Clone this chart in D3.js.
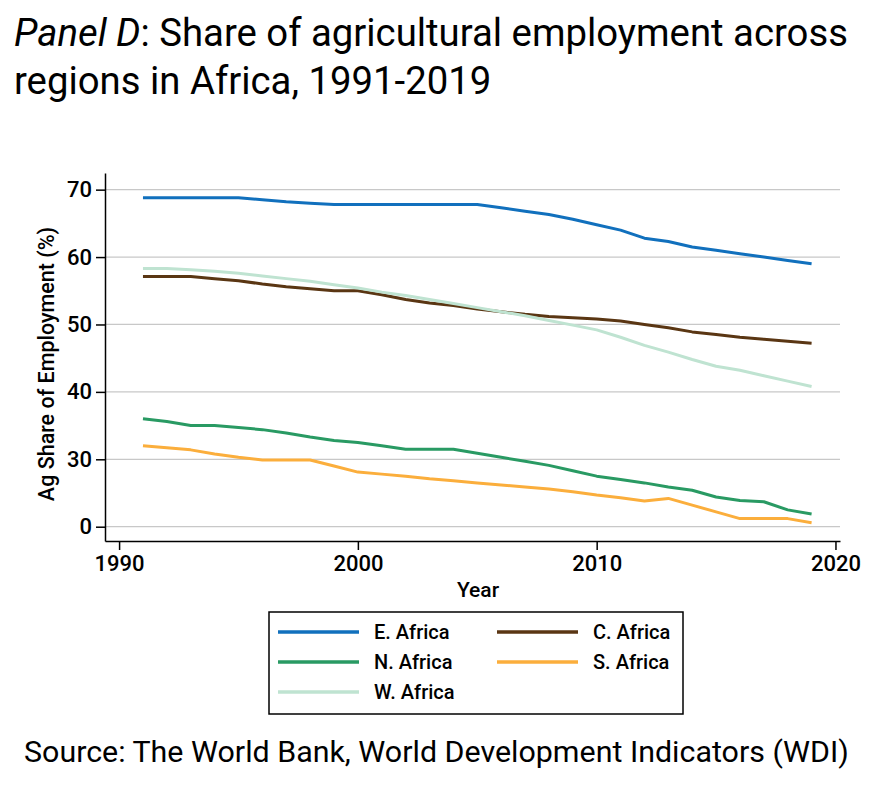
<!DOCTYPE html>
<html>
<head>
<meta charset="utf-8">
<script src="https://cdn.jsdelivr.net/npm/d3@7"></script>
<style>
  body { margin: 0; background: #fff; }
  text { font-family: Roboto, "Noto Sans", sans-serif; }
</style>
</head>
<body>
<div class="canvas"></div>
<script>
// data
const years = d3.range(1991, 2020);

const eAfrica = [68.8, 68.8, 68.8, 68.8, 68.8, 68.5, 68.2, 68.0, 67.8, 67.8,
    67.8, 67.8, 67.8, 67.8, 67.8, 67.3, 66.8, 66.3, 65.6, 64.8,
    64.0, 62.8, 62.3, 61.5, 61.0, 60.5, 60.0, 59.5, 59.0];
const cAfrica = [57.1, 57.1, 57.1, 56.8, 56.5, 56.0, 55.6, 55.3, 55.0, 55.0,
    54.4, 53.7, 53.2, 52.8, 52.3, 51.9, 51.5, 51.2, 51.0, 50.8,
    50.5, 50.0, 49.5, 48.9, 48.5, 48.1, 47.8, 47.5, 47.2];
const nAfrica = [36.0, 35.6, 35.0, 35.0, 34.7, 34.4, 33.9, 33.3, 32.8, 32.5,
    32.0, 31.5, 31.5, 31.5, 30.9, 30.3, 29.7, 29.1, 28.3, 27.5,
    27.0, 26.5, 25.9, 25.4, 24.4, 23.9, 23.7, 22.5, 21.9];
const sAfrica = [32.0, 31.7, 31.4, 30.8, 30.3, 29.9, 29.9, 29.9, 29.0, 28.1,
    27.8, 27.5, 27.1, 26.8, 26.5, 26.2, 25.9, 25.6, 25.2, 24.7,
    24.3, 23.8, 24.2, 23.2, 22.2, 21.2, 21.2, 21.2, 20.6];
const wAfrica = [58.3, 58.3, 58.1, 57.9, 57.6, 57.2, 56.8, 56.4, 55.9, 55.4,
    54.8, 54.3, 53.7, 53.1, 52.5, 51.9, 51.3, 50.6, 49.9, 49.2,
    48.1, 46.9, 45.9, 44.8, 43.8, 43.2, 42.4, 41.6, 40.8];

const yTicks = [20, 30, 40, 50, 60, 70];
const yTickLabels = ["0", "30", "40", "50", "60", "70"];
const xTicks = [1990, 2000, 2010, 2020];

const series = [
    { name: "E. Africa", values: eAfrica, color: "#1170bd" },
    { name: "C. Africa", values: cAfrica, color: "#5a3613" },
    { name: "N. Africa", values: nAfrica, color: "#299a63" },
    { name: "S. Africa", values: sAfrica, color: "#fbae3c" },
    { name: "W. Africa", values: wAfrica, color: "#bfe3d1" },
];

let margin = { left: 105, right: 42, top: 173, bottom: 245 };
let width = 882, height = 786;
let chartDims = {
    width: width - margin.left - margin.right,
    height: height - margin.top - margin.bottom,
};

const svg = d3
    .select(".canvas")
    .append("svg")
    .attr("width", width)
    .attr("height", height);

// title
const title = svg.append("text")
    .attr("x", 14)
    .attr("y", 46)
    .attr("font-size", 38.3)
    .attr("fill", "#000");
title.append("tspan").attr("font-style", "italic").text("Panel D");
title.append("tspan").text(": Share of agricultural employment across");
svg.append("text")
    .attr("x", 14)
    .attr("y", 94)
    .attr("font-size", 38.3)
    .text("regions in Africa, 1991-2019");

const chart = svg
    .append("g")
    .attr("transform", `translate(${margin.left},${margin.top})`);

const x = d3.scaleLinear().domain([1989.41, 2020.19]).range([0, chartDims.width]);
const y = d3.scaleLinear().domain([17.88, 72.47]).range([chartDims.height, 0]);

// gridlines
chart.append("g")
    .selectAll("line")
    .data(yTicks)
    .join("line")
    .attr("x1", 0)
    .attr("x2", chartDims.width)
    .attr("y1", (d) => y(d))
    .attr("y2", (d) => y(d))
    .attr("stroke", "#c8c8c8")
    .attr("stroke-width", 1.3);

const yAxis = d3.axisLeft(y)
    .tickValues(yTicks)
    .tickFormat((d, i) => yTickLabels[i])
    .tickSize(9)
    .tickPadding(4)
    .tickSizeOuter(0);

const xAxis = d3.axisBottom(x)
    .tickValues(xTicks)
    .tickFormat(d3.format("d"))
    .tickSize(9)
    .tickPadding(5)
    .tickSizeOuter(0);

const yAxisGroup = chart.append("g").call(yAxis);
const xAxisGroup = chart.append("g")
    .attr("transform", `translate(0,${chartDims.height})`)
    .call(xAxis);

[xAxisGroup, yAxisGroup].forEach((g) => {
    g.select(".domain").attr("stroke", "#000").attr("stroke-width", 1.5);
    g.selectAll(".tick line").attr("stroke", "#000").attr("stroke-width", 1.5);
    g.selectAll(".tick text")
        .attr("font-family", "Roboto, sans-serif")
        .attr("font-size", 22)
        .attr("font-weight", 500)
        .attr("fill", "#000");
});

// axis titles
svg.append("text")
    .attr("transform", `translate(54,364) rotate(-90)`)
    .attr("text-anchor", "middle")
    .attr("font-size", 21.5)
    .attr("font-weight", 500)
    .text("Ag Share of Employment (%)");

svg.append("text")
    .attr("x", 478)
    .attr("y", 597)
    .attr("text-anchor", "middle")
    .attr("font-size", 21)
    .attr("font-weight", 500)
    .text("Year");

// lines
const lineGen = d3.line()
    .x((d, i) => x(years[i]))
    .y((d) => y(d));

chart.selectAll(".series")
    .data(series)
    .join("path")
    .attr("class", "series")
    .attr("d", (d) => lineGen(d.values))
    .attr("fill", "none")
    .attr("stroke", (d) => d.color)
    .attr("stroke-width", 3)
    .attr("stroke-linejoin", "round");

// legend
const legend = svg.append("g").attr("transform", "translate(269,612)");
legend.append("rect")
    .attr("width", 414)
    .attr("height", 102)
    .attr("fill", "#fff")
    .attr("stroke", "#000")
    .attr("stroke-width", 1.5);

const legendItems = legend.selectAll(".item")
    .data(series)
    .join("g")
    .attr("class", "item")
    .attr("transform", (d, i) =>
        `translate(${i % 2 === 0 ? 9 : 228},${20 + Math.floor(i / 2) * 30})`);

legendItems.append("line")
    .attr("x1", 0)
    .attr("x2", 81)
    .attr("stroke", (d) => d.color)
    .attr("stroke-width", 3.5);

legendItems.append("text")
    .attr("x", 96)
    .attr("y", 7)
    .attr("font-size", 20)
    .attr("font-weight", 500)
    .text((d) => d.name);

// source
svg.append("text")
    .attr("x", 24)
    .attr("y", 762)
    .attr("font-size", 30.4)
    .text("Source: The World Bank, World Development Indicators (WDI)");
</script>
</body>
</html>
